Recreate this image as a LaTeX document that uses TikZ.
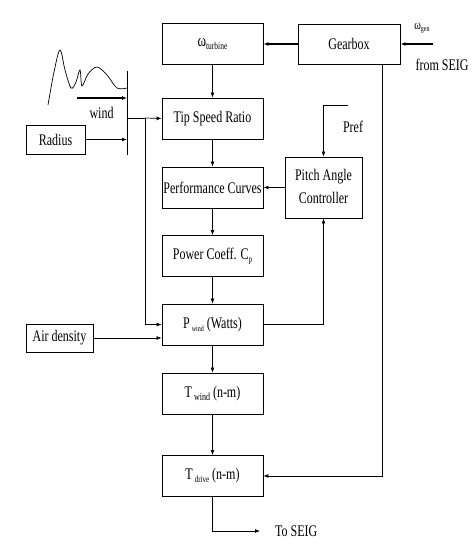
\documentclass[tikz,border=0pt]{standalone}
\usepackage{fontspec}
\setmainfont{Liberation Serif}
\usepackage{graphicx}
\usetikzlibrary{arrows.meta,calc}
\newcommand{\tall}[1]{\scalebox{1}[1.35]{#1}}
\newcommand{\lo}[2][7]{\raisebox{-0.4ex}{\fontsize{#1}{#1}\selectfont #2}}

\begin{document}
\begin{tikzpicture}[x=1pt,y=-1pt,
    blk/.style={draw,line width=0.9pt,minimum width=101pt,minimum height=41pt,inner sep=1pt,font=\fontsize{12}{14}\selectfont},
    sblk/.style={draw,line width=0.9pt,inner sep=1pt,font=\fontsize{12}{14}\selectfont},
    lbl/.style={inner sep=0pt,font=\fontsize{12}{14}\selectfont},
    arr/.style={-{Latex[length=5pt,width=4pt]},line width=0.7pt},
    tarr/.style={-{Latex[length=5pt,width=4pt]},line width=1.1pt}]
  \useasboundingbox (0,0) rectangle (474,553);

  % main column
  \node[blk] (omega)  at (212.5,44)    {\tall{\fontsize{13}{14}\selectfont ω\lo[7.5]{turbine}}};
  \node[blk] (tsr)    at (212.5,118.5) {\tall{Tip Speed Ratio}};
  \node[blk] (perf)   at (212.5,187.5) {\tall{Performance Curves}};
  \node[blk] (cp)     at (212.5,256)   {\tall{Power Coeff. C\lo{p}}};
  \node[blk] (pwind)  at (212.5,324.5) {\tall{P\,\lo[6]{wind} (Watts)}};
  \node[blk] (twind)  at (212.5,393.5) {\tall{T\,\lo[8]{wind} (n-m)}};
  \node[blk] (tdrive) at (212.5,476)   {\tall{T\,\lo{drive} (n-m)}};

  \node[sblk,minimum width=102pt,minimum height=40pt] (gear) at (349,44) {\tall{Gearbox}};
  \node[sblk,minimum width=77pt,minimum height=61pt] (pitch) at (323.5,187.5)
    {\tall{\renewcommand{\arraystretch}{1.2}\begin{tabular}{@{}c@{}}Pitch Angle\\Controller\end{tabular}}};
  \node[sblk,minimum width=59pt,minimum height=29pt] (radius) at (55.5,139.5) {\tall{Radius}};
  \node[sblk,minimum width=67pt,minimum height=28pt] (air) at (59.5,338) {\tall{Air density}};

  \node[lbl] (wgen)  at (422,28)  {\tall{\fontsize{10}{12}\selectfont ω\lo[6]{gen}}};
  \node[lbl] (from)  at (442,65)  {\tall{from SEIG}};
  \node[lbl] (pref)  at (353,127) {\tall{Pref}};
  \node[lbl] (wind)  at (101.5,113) {\tall{wind}};
  \node[lbl,anchor=west] (toseig) at (275,531) {\tall{To SEIG}};

  % wind profile and collecting bar
  \draw[line width=0.7pt] plot[smooth,tension=0.55] coordinates
    {(48,105) (54,72) (60,50) (65,70) (71,88) (76,82) (80,70) (82,86) (88,74) (97,67) (107,75) (117,88) (127,88)};
  \coordinate (barT) at (127,71);
  \coordinate (barB) at (127,155);
  \coordinate (barM) at (127,118);
  \coordinate (fork) at (145,118);
  \coordinate (windS) at (77,98);
  \draw[line width=0.9pt] (barT) -- (barB);
  \draw[tarr] (windS) -- (windS -| barT);
  \draw[tarr] (radius.east) -- (radius.east -| barT);
  \draw[line width=0.9pt] (barM) -- (fork);
  \draw[arr] (fork) -- (tsr.west);
  \draw[arr] (fork) |- (pwind.west);
  \draw[arr] (air.east) -- (air.east -| pwind.west);

  % column arrows
  \draw[arr] (omega) -- (tsr);
  \draw[arr] (tsr) -- (perf);
  \draw[arr] (perf) -- (cp);
  \draw[arr] (cp) -- (pwind);
  \draw[arr] (pwind) -- (twind);
  \draw[arr] (twind) -- (tdrive);

  % gearbox and pitch loop
  \coordinate (gin) at (433,44);
  \coordinate (pref0) at (348,105);
  \coordinate (seig) at (260,531);
  \draw[tarr] (gin) -- (gear.east);
  \draw[tarr] (gear.west) -- (omega.east);
  \draw[arr] ($(gear.south east)+(-18,0)$) |- (tdrive.east);
  \draw[arr] (pref0) -| (pitch.north);
  \draw[tarr] (pitch.west) -- (perf.east);
  \draw[arr] (pwind.east) -| (pitch.south);
  \draw[arr] (tdrive.south) |- (seig);
\end{tikzpicture}
\end{document}
